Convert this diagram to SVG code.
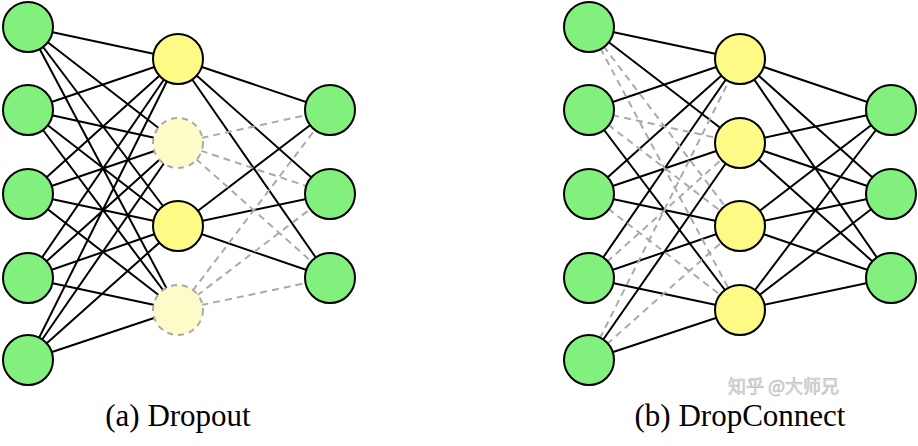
<svg xmlns="http://www.w3.org/2000/svg" width="918" height="446" viewBox="0 0 918 446">
<style>
.s{stroke:#000;stroke-width:2;fill:none}
.d{stroke:#aaa;stroke-width:2;fill:none;stroke-dasharray:7,5}
.g{fill:#82f07d;stroke:#000;stroke-width:2}
.y{fill:#fdfb86;stroke:#000;stroke-width:2}
.f{fill:#fdfbc8;stroke:#aaa;stroke-width:2;stroke-dasharray:6,5}
.t{font-family:"Liberation Serif",serif;font-size:31px;fill:#000;text-anchor:middle}
.w{font-family:"Noto Sans CJK SC",sans-serif;font-size:18px;fill:#e2e2e2;stroke:#bbb;stroke-width:0.6}
</style>
<g id="connectors">
<g class="s">
<path d="M28 27L178 59M28 27L178 143M28 27L178 226M28 27L178 310
M28 110L178 59M28 110L178 143M28 110L178 226M28 110L178 310
M28 194L178 59M28 194L178 143M28 194L178 226M28 194L178 310
M28 278L178 59M28 278L178 143M28 278L178 226M28 278L178 310
M28 360L178 59M28 360L178 143M28 360L178 226M28 360L178 310
M178 59L330 110M178 59L330 194M178 59L330 278
M178 226L330 110M178 226L330 194M178 226L330 278"/>
</g>
<g class="d">
<path d="M178 143L330 110M178 143L330 194M178 143L330 278M178 310L330 110M178 310L330 194M178 310L330 278"/>
</g>
<g class="s">
<path d="M589 27L740 59M589 27L740 143
M589 110L740 59M589 110L740 310
M589 194L740 59M589 194L740 143M589 194L740 226
M589 278L740 59M589 278L740 226M589 278L740 310
M589 360L740 143M589 360L740 310
M740 59L891 110M740 59L891 194M740 59L891 278
M740 143L891 110M740 143L891 194M740 143L891 278
M740 226L891 110M740 226L891 194M740 226L891 278
M740 310L891 110M740 310L891 194M740 310L891 278"/>
</g>
<g class="d">
<path d="M589 27L740 226M589 27L740 310M589 110L740 143M589 110L740 226M589 194L740 310M589 278L740 143M589 360L740 59M589 360L740 226"/>
</g>
</g>
<g id="a-in1"><circle class="g" cx="28" cy="27" r="25"/></g>
<g id="a-in2"><circle class="g" cx="28" cy="110" r="25"/></g>
<g id="a-in3"><circle class="g" cx="28" cy="194" r="25"/></g>
<g id="a-in4"><circle class="g" cx="28" cy="278" r="25"/></g>
<g id="a-in5"><circle class="g" cx="28" cy="360" r="25"/></g>
<g id="a-h1"><circle class="y" cx="178" cy="59" r="25"/></g>
<g id="a-h2"><circle class="f" cx="178" cy="143" r="25"/></g>
<g id="a-h3"><circle class="y" cx="178" cy="226" r="25"/></g>
<g id="a-h4"><circle class="f" cx="178" cy="310" r="25"/></g>
<g id="a-o1"><circle class="g" cx="330" cy="110" r="25"/></g>
<g id="a-o2"><circle class="g" cx="330" cy="194" r="25"/></g>
<g id="a-o3"><circle class="g" cx="330" cy="278" r="25"/></g>
<g id="b-in1"><circle class="g" cx="589" cy="27" r="25"/></g>
<g id="b-in2"><circle class="g" cx="589" cy="110" r="25"/></g>
<g id="b-in3"><circle class="g" cx="589" cy="194" r="25"/></g>
<g id="b-in4"><circle class="g" cx="589" cy="278" r="25"/></g>
<g id="b-in5"><circle class="g" cx="589" cy="360" r="25"/></g>
<g id="b-h1"><circle class="y" cx="740" cy="59" r="25"/></g>
<g id="b-h2"><circle class="y" cx="740" cy="143" r="25"/></g>
<g id="b-h3"><circle class="y" cx="740" cy="226" r="25"/></g>
<g id="b-h4"><circle class="y" cx="740" cy="310" r="25"/></g>
<g id="b-o1"><circle class="g" cx="891" cy="110" r="25"/></g>
<g id="b-o2"><circle class="g" cx="891" cy="194" r="25"/></g>
<g id="b-o3"><circle class="g" cx="891" cy="278" r="25"/></g>
<text class="t" x="178" y="426">(a) Dropout</text>
<text class="t" x="740" y="426">(b) DropConnect</text>
<text class="w" x="728" y="393">知乎 @大师兄</text>
</svg>
